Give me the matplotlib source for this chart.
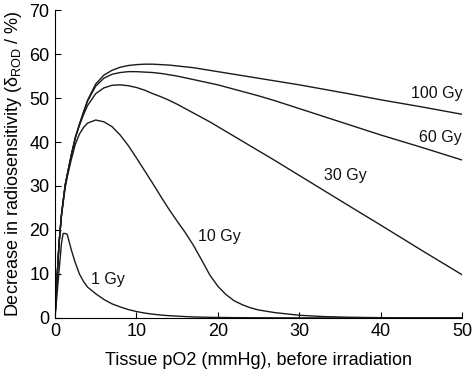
import matplotlib
matplotlib.use("Agg")
import matplotlib.pyplot as plt

plt.rcParams['font.family'] = ['Liberation Sans', 'DejaVu Sans']
plt.rcParams['mathtext.fontset'] = 'custom'
plt.rcParams['mathtext.rm'] = 'Liberation Sans'
plt.rcParams['mathtext.it'] = 'Liberation Sans:italic'

po2 = [0, 0.25, 0.5, 0.8, 1.0, 1.25, 1.5, 2, 2.5, 3, 3.5, 4, 5, 6, 7, 8, 9, 10,
       11, 12, 13, 14, 15, 16, 17, 18, 19, 20, 21, 22, 23, 24, 25, 27, 30, 33,
       36, 40, 45, 50]

gy100 = [0, 9, 17, 23.5, 26.5, 30.2, 32.5, 37, 41, 44, 46.8, 49.5, 53.2, 55.2,
         56.3, 57, 57.4, 57.6, 57.7, 57.7, 57.6, 57.5, 57.3, 57.1, 56.9, 56.6,
         56.3, 56, 55.7, 55.4, 55.1, 54.8, 54.5, 53.9, 53.0, 52.0, 51.0, 49.6, 48, 46.3]
gy60 = [0, 9, 17, 23.5, 26.5, 30.2, 32.5, 37, 41, 44, 46.7, 49.3, 52.7, 54.5,
        55.4, 55.8, 56, 56, 55.9, 55.8, 55.6, 55.3, 55, 54.6, 54.2, 53.8, 53.4,
        53, 52.5, 52, 51.5, 51, 50.5, 49.4, 47.6, 45.8, 44.0, 41.6, 38.8, 35.9]
gy30 = [0, 9, 17, 23.5, 26.5, 30.2, 32.5, 37, 41, 43.8, 46.2, 48.3, 51, 52.3,
        52.9, 53, 52.8, 52.4, 51.8, 51, 50.3, 49.5, 48.6, 47.6, 46.6, 45.6,
        44.6, 43.5, 42.4, 41.3, 40.2, 39.1, 38, 35.8, 32.4, 29, 25.6, 21.1,
        15.4, 9.8]
gy10 = [0, 9, 17, 23.3, 26.2, 29.5, 32, 36, 39.5, 41.8, 43.3, 44.3, 45, 44.6,
        43.5, 41.6, 39.2, 36.4, 33.5, 30.6, 27.6, 24.7, 22, 19.4, 16.5, 13.2,
        9.8, 7.2, 5.3, 3.9, 3.0, 2.3, 1.8, 1.2, 0.6, 0.3, 0.15, 0.05, 0, 0]
gy1 = [0, 5.3, 10.7, 17, 19.2, 19.2, 19, 15.5, 12.5, 10, 8.3, 7, 5.5, 4.2,
       3.2, 2.5, 1.9, 1.45, 1.1, 0.85, 0.65, 0.5, 0.4, 0.3, 0.22, 0.17, 0.13,
       0.1, 0.08, 0.06, 0.05, 0.04, 0.03, 0.02, 0.01, 0, 0, 0, 0, 0]

labels = ["100 Gy", "60 Gy", "30 Gy", "10 Gy", "1 Gy"]
label_pos = [(50, 51.1), (50, 41.1), (35.7, 32.3), (20.2, 18.4), (6.5, 8.8)]
label_ha = ["right", "right", "center", "center", "center"]

xticks = [0, 10, 20, 30, 40, 50]
yticks = [0, 10, 20, 30, 40, 50, 60, 70]

fig = plt.figure(figsize=(4.74, 3.74), dpi=100)
ax = fig.add_axes([0.116, 0.150, 0.859, 0.823])

for series in (gy100, gy60, gy30, gy10, gy1):
    ax.plot(po2, series, color='#1a1a1a', lw=1.0)

for txt, (lx, ly), ha in zip(labels, label_pos, label_ha):
    ax.text(lx, ly, txt, ha=ha, va='center', fontsize=11.5, color='#111111')

ax.set_xlim(0, 50)
ax.set_ylim(0, 70)
ax.set_xticks(xticks)
ax.set_yticks(yticks)
ax.tick_params(direction='in', length=4, width=0.8, labelsize=13, pad=4)
for s in ('top', 'right'):
    ax.spines[s].set_visible(False)
for s in ('left', 'bottom'):
    ax.spines[s].set_linewidth(0.8)

ax.set_xlabel('Tissue pO2 (mmHg), before irradiation', fontsize=13, labelpad=8)
ax.set_ylabel(r'Decrease in radiosensitivity (δ$_{\mathrm{ROD}}$ / %)', fontsize=13, labelpad=4)

fig.savefig('out.png', dpi=100)
